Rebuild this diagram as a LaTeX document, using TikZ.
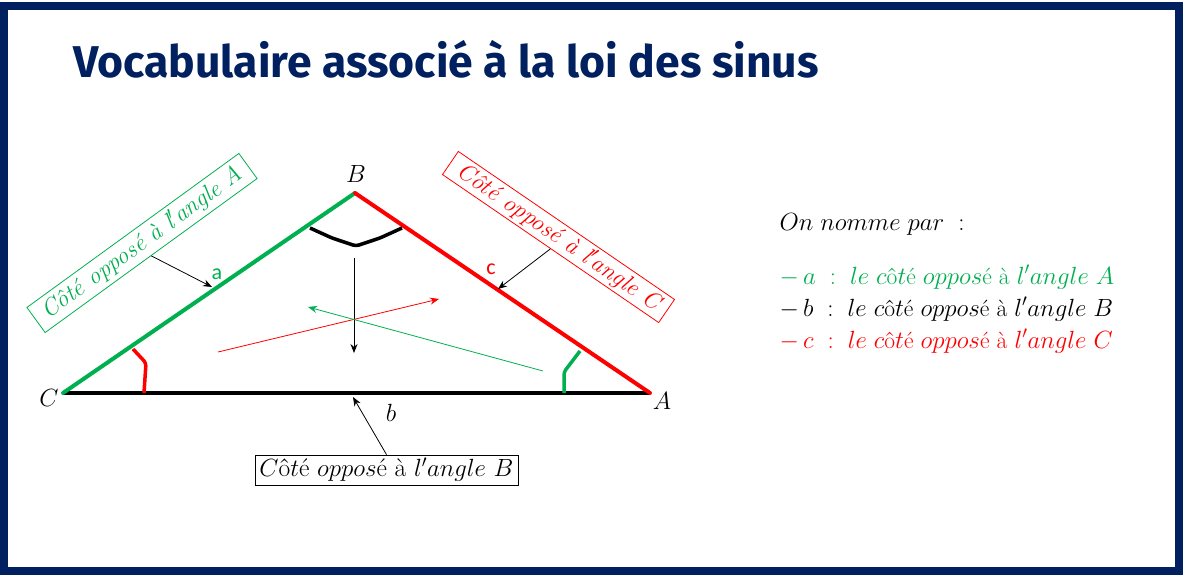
\documentclass[tikz,border=0pt]{standalone}
\usepackage{amsmath}
\usepackage{fontspec}
\newfontfamily\titlefont{Fira Sans}
\newfontfamily\labelsans{Carlito}
\usetikzlibrary{arrows.meta}
\definecolor{navy}{HTML}{002060}
\definecolor{mygreen}{HTML}{00B050}
\definecolor{myred}{HTML}{FF0000}
\newcommand\up[1]{\text{\upshape #1}}
\begin{document}
\begin{tikzpicture}[x=1pt,y=-1pt,
  side/.style={line width=4pt},
  anglemark/.style={line width=3.5pt,rounded corners=3pt},
  thinarrow/.style={line width=0.8pt,-{Stealth[length=9pt,width=7pt]}},
  labelbox/.style={draw,line width=0.8pt,inner sep=1.5pt,minimum height=29pt,font=\fontsize{25.5}{28}\selectfont},
  rotbox/.style={labelbox,font=\fontsize{24}{27}\selectfont\itshape,minimum width=262pt},
  vlabel/.style={font=\fontsize{25}{28}\selectfont\itshape},
  sidelabel/.style={font=\labelsans\fontsize{22}{26}\selectfont},
  listline/.style={anchor=base west,font=\fontsize{23.5}{28}\selectfont}]
\useasboundingbox (0,0) rectangle (1185,576);
\fill[white] (0,0) rectangle (1185,576);
\draw[navy,line width=8pt] (4,6) rectangle (1179,571);
\node[anchor=base west,inner sep=0,text=navy,font=\titlefont\bfseries\fontsize{44.5}{50}\selectfont] (title) at (73,77) {Vocabulaire associé à la loi des sinus};

% triangle
\coordinate (C) at (63,393);
\coordinate (B) at (355,193);
\coordinate (A) at (650,393);
\draw[side,black] (C) -- (A);
\draw[side,mygreen,line cap=round] (C) -- (B);
\draw[side,myred,line cap=round] (B) -- (A);
\node[vlabel] (lB) at (356,174) {$B$};
\node[vlabel] (lC) at (49,398) {$C$};
\node[vlabel] (lA) at (662,401) {$A$};

% angle marks
\draw[anglemark,black] (310,228) -- (332,238) -- (356,246) -- (380,238) -- (402,228);
\draw[anglemark,myred] (133,349) -- (146,363) -- (144,393);
\draw[anglemark,mygreen] (580,351) -- (564,372) -- (564,393);

% inner arrows
\coordinate (k1) at (354,258); \coordinate (k2) at (354,353);
\draw[thinarrow,black] (k1) -- (k2);
\coordinate (r1) at (218,352); \coordinate (r2) at (439,299);
\draw[thinarrow,myred] (r1) -- (r2);
\coordinate (g1) at (543,371); \coordinate (g2) at (308,307);
\draw[thinarrow,mygreen] (g1) -- (g2);

% side labels
\node[sidelabel,text=mygreen] (la) at (217,274) {a};
\node[sidelabel,text=myred] (lc) at (491,269) {c};
\node[vlabel] (lb) at (391,413) {$b$};

% label boxes
\node[rotbox,mygreen,rotate=36,minimum height=31pt] (gbox) at (142,243) {Côté opposé à l$'$angle A};
\node[rotbox,myred,rotate=-34.4,minimum height=28pt] (rbox) at (558.5,237) {Côté opposé à l$'$angle C};
\node[labelbox,black,minimum width=263pt,minimum height=30pt] (bbox) at (386.5,470) {$C\up{ô}t\up{é}\ oppos\up{é}\ \up{à}\ l'angle\ B$};

\coordinate (ta) at (212,287);
\coordinate (tc) at (498,289);
\coordinate (tb) at (353,397);
\draw[thinarrow,black] (gbox.south) -- (ta);
\draw[thinarrow,black] (rbox.south) -- (tc);
\draw[thinarrow,black] (bbox.north) -- (tb);

% right list
\node[listline] (l0) at (776,230) {$On\ nomme\ par\ :$};
\node[listline,text=mygreen] (l1) at (776,284) {$-\,a\ :\ le\ c\up{ô}t\up{é}\ oppos\up{é}\ \up{à}\ l'angle\ A$};
\node[listline,text=black] (l2) at (776,316) {$-\,b\ :\ le\ c\up{ô}t\up{é}\ oppos\up{é}\ \up{à}\ l'angle\ B$};
\node[listline,text=myred] (l3) at (776,348) {$-\,c\ :\ le\ c\up{ô}t\up{é}\ oppos\up{é}\ \up{à}\ l'angle\ C$};
\end{tikzpicture}
\end{document}
